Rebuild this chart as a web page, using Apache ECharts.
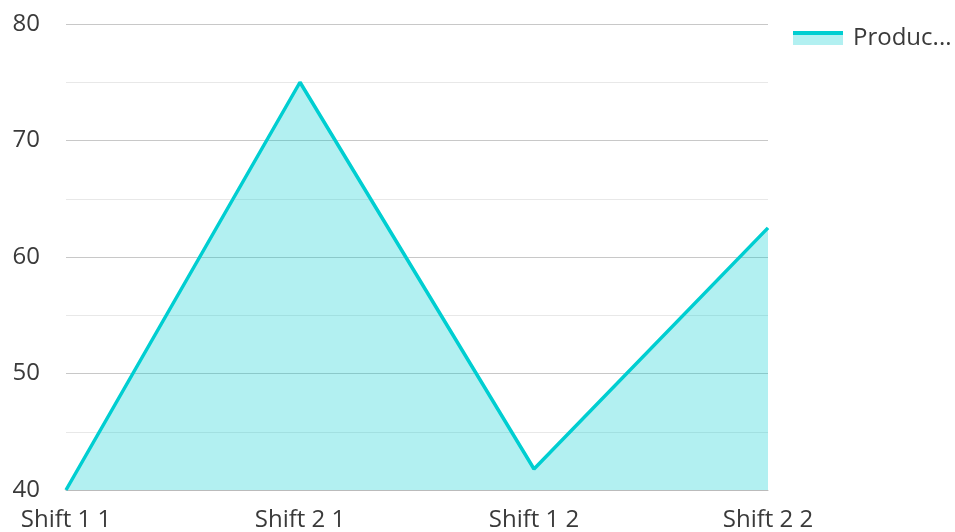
<!DOCTYPE html>
<html><head><meta charset="utf-8">
<script src="https://cdn.jsdelivr.net/npm/echarts@6/dist/echarts.min.js"></script>
<style>html,body{margin:0;padding:0;background:#fff}#c{width:955px;height:532px}</style>
</head><body><div id="c"></div>
<script>
const categories = ['Shift 1 1', 'Shift 2 1', 'Shift 1 2', 'Shift 2 2'];
const seriesName = 'Production';
const values = [40, 75, 41.8, 62.5];
const yMin = 40, yMax = 80, yStep = 10;

const chart = echarts.init(document.getElementById('c'));
const font = '"Open Sans", "Noto Sans", sans-serif';
chart.setOption({
  animation: false,
  textStyle: { fontFamily: font },
  grid: { left: 66, right: 187, top: 24, bottom: 41 },
  legend: {
    left: 788, top: 21,
    itemWidth: 50, itemHeight: 14, itemGap: 10,
    icon: 'rect',
    itemStyle: {
      color: { type: 'linear', x: 0, y: 0, x2: 0, y2: 1, colorStops: [
        { offset: 0, color: '#00CED1' }, { offset: 0.28, color: '#00CED1' },
        { offset: 0.28, color: '#b2f0f1' }, { offset: 1, color: '#b2f0f1' }] }
    },
    textStyle: { fontFamily: font, fontSize: 24, color: '#3a3a3a', width: 102, overflow: 'truncate', ellipsis: '...', padding: [0, 0, 21, 5] },
    data: [seriesName]
  },
  xAxis: {
    type: 'category', data: categories, boundaryGap: false,
    axisTick: { show: false },
    axisLine: { lineStyle: { color: '#bbb' } },
    axisLabel: { fontFamily: font, fontSize: 24, color: '#3a3a3a', margin: 18 }
  },
  yAxis: {
    type: 'value', min: yMin, max: yMax, interval: yStep,
    axisLabel: { fontFamily: font, fontSize: 24, color: '#3a3a3a', margin: 26 },
    splitLine: { lineStyle: { color: '#c8c8c8' } },
    minorTick: { show: false, splitNumber: 2 },
    minorSplitLine: { show: true, lineStyle: { color: '#e8e8e8' } }
  },
  series: [{
    name: seriesName, type: 'line', data: values,
    showSymbol: false, symbol: 'none',
    lineStyle: { color: '#00CED1', width: 3.5 },
    itemStyle: { color: '#00CED1' },
    areaStyle: { color: '#00CED1', opacity: 0.3 }
  }]
});
</script></body></html>
